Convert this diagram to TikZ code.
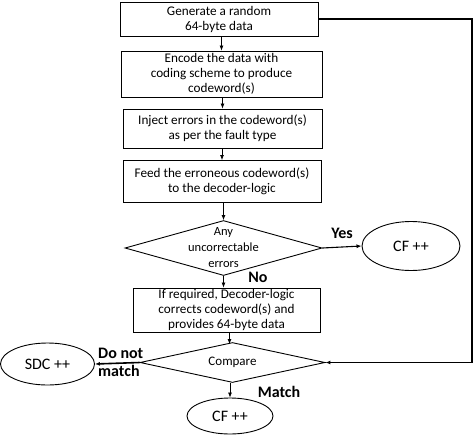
\documentclass[tikz,border=0pt]{standalone}
\usepackage{fontspec}
\setmainfont{Carlito}
\usetikzlibrary{arrows.meta,shapes,positioning,calc}

\begin{document}
\begin{tikzpicture}[x=1pt, y=-1pt,
    stage/.style={rectangle, draw, line width=0.9pt, inner sep=0pt, align=center, font=\fontsize{13.2}{15}\selectfont},
    decision/.style={diamond, draw, line width=0.9pt, inner sep=0pt},
    result/.style={ellipse, draw, line width=0.9pt, inner sep=0pt, font=\fontsize{16}{18}\selectfont},
    tag/.style={inner sep=0pt, align=left, font=\bfseries\fontsize{16}{18}\selectfont},
    arrow/.style={-{Latex[length=5pt,width=4pt]}, line width=0.7pt}
]
\useasboundingbox (0,0) rectangle (474,437);

% Draw stages
\node[stage, minimum width=198pt, minimum height=34pt] (generate) at (219,19) {Generate a random\\64-byte data};
\node[stage, minimum width=201pt, minimum height=46pt] (encode) at (221.5,74) {Encode the data with\\coding scheme to produce\\codeword(s)};
\node[stage, minimum width=199pt, minimum height=39pt] (inject) at (222.5,128.5) {Inject errors in the codeword(s)\\as per the fault type};
\node[stage, minimum width=198pt, minimum height=42pt] (feed) at (222,181.5) {Feed the erroneous codeword(s)\\to the decoder-logic};

\node[decision, minimum width=197pt, minimum height=55pt] (uncorr) at (223.5,248) {};
\node[stage, draw=none, font=\fontsize{12.5}{16}\selectfont] (uncorrtext) at (uncorr) {Any\\uncorrectable\\errors};
\node[result, minimum width=98pt, minimum height=49pt] (cfyes) at (411,246) {CF ++};

\node[stage, minimum width=187pt, minimum height=44pt] (correct) at (226.5,310) {If required, Decoder-logic\\corrects codeword(s) and\\provides 64-byte data};

\node[decision, minimum width=185pt, minimum height=40pt] (compare) at (232.5,362.5) {};
\node[stage, draw=none, font=\fontsize{13}{15}\selectfont] (comparetext) at (compare) {Compare};
\node[result, minimum width=94pt, minimum height=42pt] (sdc) at (47.5,364) {SDC ++};
\node[result, minimum width=86pt, minimum height=36pt] (cfmatch) at (230,416) {CF ++};

% Draw labels
\node[tag] (yes) at (342,233) {Yes};
\node[tag] (no) at (258,277) {No};
\node[tag, anchor=west] (nomatch) at (98,362) {Do not\\match};
\node[tag] (match) at (279,392) {Match};

% Draw arrows
\draw[arrow] (generate.south -| encode.north) -- (encode.north);
\draw[arrow] (encode.south -| inject.north) -- (inject.north);
\draw[arrow] (inject.south -| feed.north) -- (feed.north);
\draw[arrow] (feed.south -| uncorr.north) -- (uncorr.north);
\draw[arrow] (uncorr.south) -- (uncorr.south |- correct.north);
\draw[arrow, line width=1.1pt] (uncorr.east) -- (cfyes.west);
\draw[arrow] (correct.south -| compare.north) ++(-3,0) -- ($(compare.north)+(-3,2)$);
\draw[arrow] (compare.south -| cfmatch.north) -- (cfmatch.north);
\draw[arrow, line width=1.6pt] (compare.west) -- (sdc.east);

% Feedback loop
\coordinate (loop) at (472,0);
\draw[arrow, line width=1.6pt] (generate.east) -| (loop |- compare.east) -- (compare.east);

\end{tikzpicture}
\end{document}
